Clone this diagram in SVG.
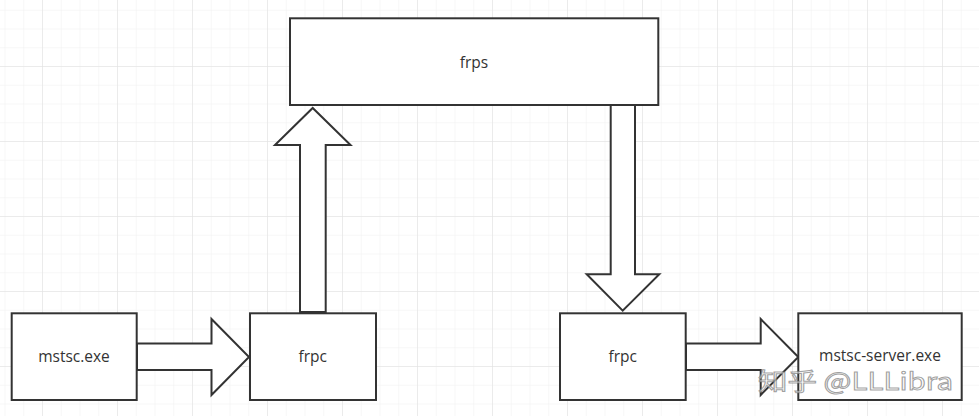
<svg xmlns="http://www.w3.org/2000/svg" width="979" height="416" viewBox="0 0 979 416">
  <defs>
    <pattern id="minor" x="4.5" y="9.75" width="18.75" height="18.75" patternUnits="userSpaceOnUse">
      <path d="M 0 0 L 0 18.75 M 0 0 L 18.75 0" fill="none" stroke="#f0f0f0" stroke-width="1"/>
    </pattern>
    <pattern id="major" x="42" y="66" width="75" height="75" patternUnits="userSpaceOnUse">
      <path d="M 0 0 L 0 75 M 0 0 L 75 0" fill="none" stroke="#e0e0e0" stroke-width="1"/>
    </pattern>
  </defs>
  <style>
    .box { fill: #ffffff; stroke: #333333; stroke-width: 2; }
    .arrow { fill: #ffffff; stroke: #333333; stroke-width: 2; stroke-linejoin: miter; }
    .label { font-family: "Open Sans", "Noto Sans", "Liberation Sans", sans-serif; font-size: 15.5px; fill: #333333; text-anchor: middle; dominant-baseline: central; }
    .wm { font-family: "Noto Sans CJK SC", "Noto Sans", sans-serif; font-size: 24px; fill: #ffffff; fill-opacity: 0.6; stroke: #777777; stroke-opacity: 0.7; stroke-width: 1; }
  </style>
  <rect x="0" y="0" width="979" height="416" fill="#ffffff"/>
  <rect x="0" y="0" width="979" height="416" fill="url(#minor)"/>
  <rect x="0" y="0" width="979" height="416" fill="url(#major)"/>

  <g id="connectors">
    <polygon class="arrow" points="137,343.5 211.5,343.5 211.5,319 249,357 211.5,395 211.5,370 137,370"/>
    <polygon class="arrow" points="300,312 300,145 275,145 312.7,108 350.5,145 325.7,145 325.7,312"/>
    <polygon class="arrow" points="610.7,105 635,105 635,274.3 659.3,274.3 622.7,310.7 586.7,274.3 610.7,274.3"/>
    <polygon class="arrow" points="686,343.5 760.7,343.5 760.7,319 798.3,357 760.7,395 760.7,370 686,370"/>
  </g>

  <g id="frps">
    <rect class="box" x="290" y="18.3" width="368.3" height="86.7"/>
    <text class="label" x="474" y="62">frps</text>
  </g>
  <g id="mstsc">
    <rect class="box" x="11.7" y="313.3" width="125" height="86.7"/>
    <text class="label" x="74" y="356">mstsc.exe</text>
  </g>
  <g id="frpc-left">
    <rect class="box" x="250" y="313.3" width="126" height="86.7"/>
    <text class="label" x="312.7" y="356">frpc</text>
  </g>
  <g id="frpc-right">
    <rect class="box" x="560" y="313.3" width="125.7" height="86.7"/>
    <text class="label" x="622.7" y="356">frpc</text>
  </g>
  <g id="mstsc-server">
    <rect class="box" x="798.3" y="313.3" width="163.4" height="86.7"/>
    <text class="label" x="880" y="355">mstsc-server.exe</text>
  </g>

  <text class="wm" x="758" y="390" textLength="195" lengthAdjust="spacingAndGlyphs">知乎 @LLLibra</text>
</svg>
